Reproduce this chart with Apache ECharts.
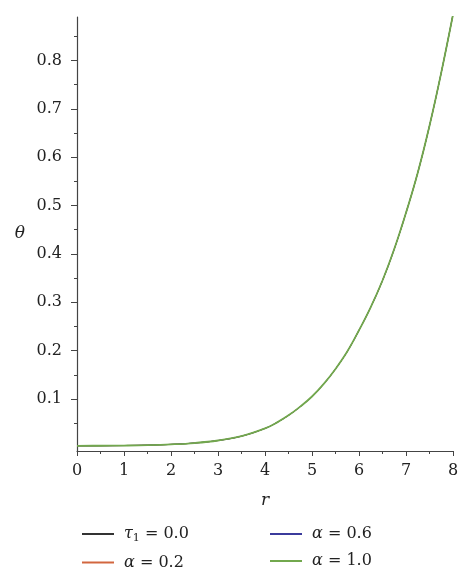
<!DOCTYPE html>
<html>
<head>
<meta charset="utf-8">
<script src="https://cdn.jsdelivr.net/npm/echarts@6/dist/echarts.min.js"></script>
<style>html,body{margin:0;padding:0;background:#fff;}#c{width:474px;height:584px;}</style>
</head>
<body>
<div id="c"></div>
<script>
var rValues = [0, 0.5, 1, 1.5, 2, 2.5, 3, 3.5, 4, 4.25, 4.5, 4.75, 5, 5.25, 5.5, 5.75, 6, 6.25, 6.5, 6.75, 7, 7.25, 7.5, 7.75, 8];
var thetaValues = [0.003, 0.0032, 0.0036, 0.0044, 0.006, 0.0088, 0.014, 0.023, 0.039, 0.051, 0.066, 0.084, 0.105, 0.131, 0.162, 0.198, 0.242, 0.290, 0.345, 0.410, 0.485, 0.568, 0.665, 0.775, 0.895];
var seriesNames = ['τ1 = 0.0', 'α = 0.2', 'α = 0.6', 'α = 1.0'];
var seriesColors = ['#333333', '#d2663f', '#3b3b9c', '#72a84e'];
var yTickLabels = [0.1, 0.2, 0.3, 0.4, 0.5, 0.6, 0.7, 0.8];
var yMinorTicks = [0.05, 0.15, 0.25, 0.35, 0.45, 0.55, 0.65, 0.75, 0.85];
var xTickLabels = [0, 1, 2, 3, 4, 5, 6, 7, 8];

var FONT = 'DejaVu Serif';
var pts = rValues.map(function (r, i) { return [r, thetaValues[i]]; });

var series = seriesNames.map(function (n, i) {
  return {
    name: n, type: 'line', data: pts, smooth: 0.4, showSymbol: false, symbol: 'none',
    lineStyle: { color: seriesColors[i], width: i === 3 ? 1.8 : 1 }, itemStyle: { color: seriesColors[i] },
    yAxisIndex: 0, xAxisIndex: 0, z: 2 + i
  };
});

function legendFmt(name) {
  if (name.indexOf('τ1') === 0) return '{it|τ}{sub|1}{n| = 0.0}';
  return '{it|α}{n|' + name.slice(1) + '}';
}
var legendText = {
  fontFamily: FONT, fontSize: 16, color: '#222', padding: [0, 0, 0, 5],
  rich: {
    it: { fontFamily: FONT, fontSize: 16, fontStyle: 'italic', color: '#222' },
    n: { fontFamily: FONT, fontSize: 16, color: '#222' },
    sub: { fontFamily: FONT, fontSize: 11, color: '#222', verticalAlign: 'bottom', padding: [8, 0, 0, 0] }
  }
};

var option = {
  animation: false,
  backgroundColor: '#fff',
  textStyle: { fontFamily: FONT },
  grid: { left: 77, right: 21, top: 17, bottom: 133, containLabel: false },
  legend: [
    { data: [seriesNames[0], seriesNames[1]], orient: 'vertical', left: 77, top: 521, itemWidth: 32, itemHeight: 2, itemGap: 11, icon: 'rect', formatter: legendFmt, textStyle: legendText, selectedMode: false },
    { data: [seriesNames[2], seriesNames[3]], orient: 'vertical', left: 265, top: 521, itemWidth: 32, itemHeight: 2, itemGap: 11, icon: 'rect', formatter: legendFmt, textStyle: legendText, selectedMode: false }
  ],
  xAxis: [{
    type: 'value', min: 0, max: 8, interval: 1,
    name: 'r', nameLocation: 'middle', nameGap: 41,
    nameTextStyle: { fontFamily: FONT, fontSize: 17, fontStyle: 'italic', color: '#222' },
    axisLine: { show: true, onZero: false, lineStyle: { color: '#444', width: 1.2 } },
    axisTick: { show: true, length: 5, lineStyle: { color: '#444' } },
    minorTick: { show: true, splitNumber: 2, length: 3, lineStyle: { color: '#444' } },
    axisLabel: { fontFamily: FONT, fontSize: 16, color: '#222', margin: 12 },
    splitLine: { show: false }, minorSplitLine: { show: false }
  }],
  yAxis: [{
    type: 'value', min: -0.0077, max: 0.89,
    name: 'θ', nameLocation: 'middle', nameGap: 52, nameRotate: 0,
    nameTextStyle: { fontFamily: FONT, fontSize: 17, fontStyle: 'italic', color: '#222' },
    axisLine: { show: true, onZero: false, lineStyle: { color: '#444', width: 1.2 } },
    axisTick: { show: true, length: 6, customValues: yTickLabels, lineStyle: { color: '#444' } },
    axisLabel: { fontFamily: FONT, fontSize: 16, color: '#222', margin: 15, customValues: yTickLabels },
    splitLine: { show: false }
  }, {
    type: 'value', min: -0.0077, max: 0.89, position: 'left',
    axisLine: { show: false },
    axisTick: { show: true, length: 3, customValues: yMinorTicks, lineStyle: { color: '#444' } },
    axisLabel: { show: false, customValues: yMinorTicks },
    splitLine: { show: false }
  }],
  series: series
};
echarts.init(document.getElementById('c')).setOption(option);
</script>
</body>
</html>
